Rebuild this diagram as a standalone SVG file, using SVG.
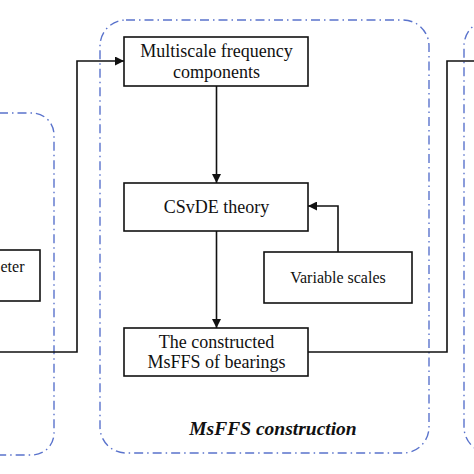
<svg xmlns="http://www.w3.org/2000/svg" width="474" height="474" viewBox="0 0 474 474">
<style>
.grp{fill:none;stroke:#5a73cc;stroke-width:1.4;stroke-dasharray:9,4,1.5,4}
.box{fill:#fff;stroke:#111;stroke-width:1.6}
.t{font-family:"Liberation Serif","Times New Roman",serif;font-size:18px;fill:#111;text-anchor:middle}
.c{fill:none;stroke:#111;stroke-width:1.6}
</style>
<defs>
<marker id="ah" viewBox="0 0 10 10" refX="10" refY="5" markerWidth="9" markerHeight="9" markerUnits="userSpaceOnUse" orient="auto">
<path d="M0,0 L10,5 L0,10 z" fill="#111"/>
</marker>
</defs>
<g id="groups">
<rect class="grp" x="-60" y="113" width="114" height="342" rx="22"/>
<rect class="grp" x="100" y="20" width="329" height="433" rx="26"/>
<rect class="grp" x="464" y="20" width="60" height="433" rx="26"/>
<text x="273" y="435" class="t" style="font-weight:bold;font-style:italic;font-size:19.5px">MsFFS construction</text>
</g>
<g id="connectors">
<path class="c" d="M0,352 H77 V61 H124" marker-end="url(#ah)"/>
<path class="c" d="M216.5,86 V183" marker-end="url(#ah)"/>
<path class="c" d="M216.5,231 V328" marker-end="url(#ah)"/>
<path class="c" d="M338,252 V206 H308" marker-end="url(#ah)"/>
<path class="c" d="M308,352 H447 V61 H474"/>
</g>
<g id="node-parameter">
<rect class="box" x="-40" y="250" width="80" height="51"/>
<text x="0.5" y="272" class="t" style="text-anchor:start;font-size:16px">eter</text>
</g>
<g id="node-multiscale">
<rect class="box" x="124" y="37" width="184" height="49"/>
<text x="216.5" y="57" class="t">Multiscale frequency</text>
<text x="216.5" y="78" class="t">components</text>
</g>
<g id="node-csvde">
<rect class="box" x="124" y="183" width="184" height="48"/>
<text x="216.5" y="213" class="t">CSvDE theory</text>
</g>
<g id="node-variable">
<rect class="box" x="264" y="252" width="148" height="51"/>
<text x="338" y="283" class="t" style="font-size:16px">Variable scales</text>
</g>
<g id="node-constructed">
<rect class="box" x="124" y="328" width="184" height="48"/>
<text x="216.5" y="348" class="t">The constructed</text>
<text x="216.5" y="368" class="t">MsFFS of bearings</text>
</g>
</svg>
